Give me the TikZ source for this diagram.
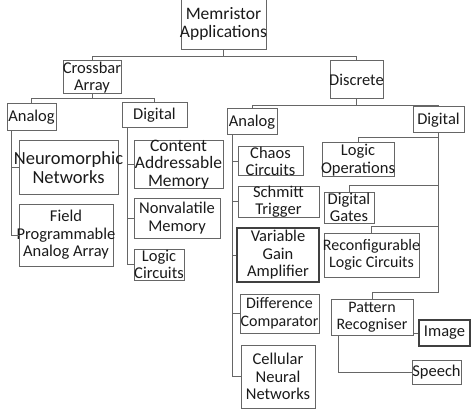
\documentclass[tikz,border=0pt]{standalone}
\usepackage{fontspec}
\setmainfont{Carlito}
\usetikzlibrary{calc}
\definecolor{linec}{HTML}{666666}
\definecolor{textc}{HTML}{1A1A1A}
\tikzset{
  box/.style={draw=linec, line width=1pt, rectangle, inner sep=0pt},
  dbox/.style={box, draw=black!75, line width=1.4pt},
  lab/.style={inner sep=0pt, align=center, text=textc},
  conn/.style={draw=linec, line width=1pt},
}
% \bx[fontsize]{style}{name}{x1}{y1}{x2}{y2}{text}
\newcommand{\bx}[8][16.5]{%
  \node[#2, minimum width={#6-#4}, minimum height={#7-#5},
    label={[lab, font=\fontsize{#1}{17.5}\selectfont]center:{#8}}]
    (#3) at ({(#4+#6)/2},{(#5+#7)/2}) {};}
\begin{document}
\begin{tikzpicture}[x=1pt,y=-1pt]
\useasboundingbox (0,0) rectangle (474,409);
\clip (0,0) rectangle (474,409);
% level 0/1
\bx[17.5]{box}{mem}{181}{-2}{266}{50}{Memristor\\Applications}
\bx[16.5]{box}{cross}{63}{61}{121}{94}{Crossbar\\Array}
\bx[16.5]{box}{disc}{330}{61}{383}{99}{Discrete}
% level 2
\bx{box}{anL}{7}{104}{56}{131}{Analog}
\bx{box}{digL}{122}{103}{187}{128}{Digital}
\bx{box}{anR}{227}{109}{277}{135}{Analog}
\bx{box}{digR}{413}{107}{464}{133}{Digital}
% left analog
\bx[18.5]{box}{neuro}{19}{141}{118}{194}{Neuromorphic\\[1.5pt]Networks}
\bx{box}{fpaa}{19}{204}{113}{266}{Field\\Programmable\\Analog Array}
% left digital
\bx[17.5]{box}{cam}{134}{141}{223}{188}{Content\\Addressable\\Memory}
\bx{box}{nvm}{134}{198}{220}{238}{Nonvalatile\\Memory}
\bx{box}{logc}{134}{249}{184}{280}{Logic\\Circuits}
% right analog
\bx{box}{chaos}{238}{147}{303}{176}{Chaos\\Circuits}
\bx{box}{schmitt}{238}{186}{319}{217}{Schmitt\\Trigger}
\bx{dbox}{vga}{237}{228}{319}{282}{Variable\\Gain\\Amplifier}
\bx[16]{box}{diff}{240}{294}{319}{333}{Difference\\Comparator}
\bx{box}{cnn}{241}{345}{315}{408}{Cellular\\Neural\\Networks}
% right digital
\bx{box}{lops}{322}{143}{394}{177}{Logic\\Operations}
\bx{box}{gates}{324}{192}{374}{223}{Digital\\Gates}
\bx[16]{box}{rlc}{324}{233}{419}{277}{Reconfigurable\\Logic Circuits}
\bx[16]{box}{pat}{331}{299}{413}{335}{Pattern\\Recogniser}
\bx{dbox}{img}{419}{320}{470}{346}{Image}
\bx{box}{sp}{412}{360}{461}{384}{Speech}
% connectors
\coordinate (b0) at ($(mem.south)+(0,6)$);
\draw[conn] (mem.south) -- (b0) -| (cross.north);
\draw[conn] (b0) -| (disc.north);
\coordinate (b1) at ($(cross.south)+(0,4)$);
\draw[conn] (cross.south) -- (b1) -| (anL.north);
\draw[conn] (b1) -| (digL.north);
\coordinate (b2) at ($(disc.south)+(0,6)$);
\draw[conn] (disc.south) -- (b2) -| (anR.north);
\draw[conn] (b2) -| (digR.north);
% left analog children
\draw[conn] ([xshift=5pt]anL.south west) |- (neuro.west);
\draw[conn] ([xshift=5pt]anL.south west) |- (fpaa.west);
% left digital children
\draw[conn] ([xshift=6pt]digL.south west) |- (cam.west);
\draw[conn] ([xshift=6pt]digL.south west) |- (nvm.west);
\draw[conn] ([xshift=6pt]digL.south west) |- (logc.west);
% right analog children
\foreach \t in {chaos,schmitt,vga,diff,cnn}
  \draw[conn] ([xshift=6pt]anR.south west) |- (\t.west);
% right digital children
\draw[conn] (digR.south) |- ($(lops.north)+(0,-5)$) -- (lops.north);
\draw[conn] (digR.south) |- ($(gates.north)+(0,-6)$) -- (gates.north);
\draw[conn] (digR.south) |- ($(rlc.north)+(0,-6)$) -- (rlc.north);
\draw[conn] (digR.south) |- ($(pat.north)+(0,-6)$) -- (pat.north);
\draw[conn] (img.west) -- (img.west -| pat.east);
\draw[conn] ([xshift=8pt]pat.south west) |- (sp.west);
\end{tikzpicture}
\end{document}
